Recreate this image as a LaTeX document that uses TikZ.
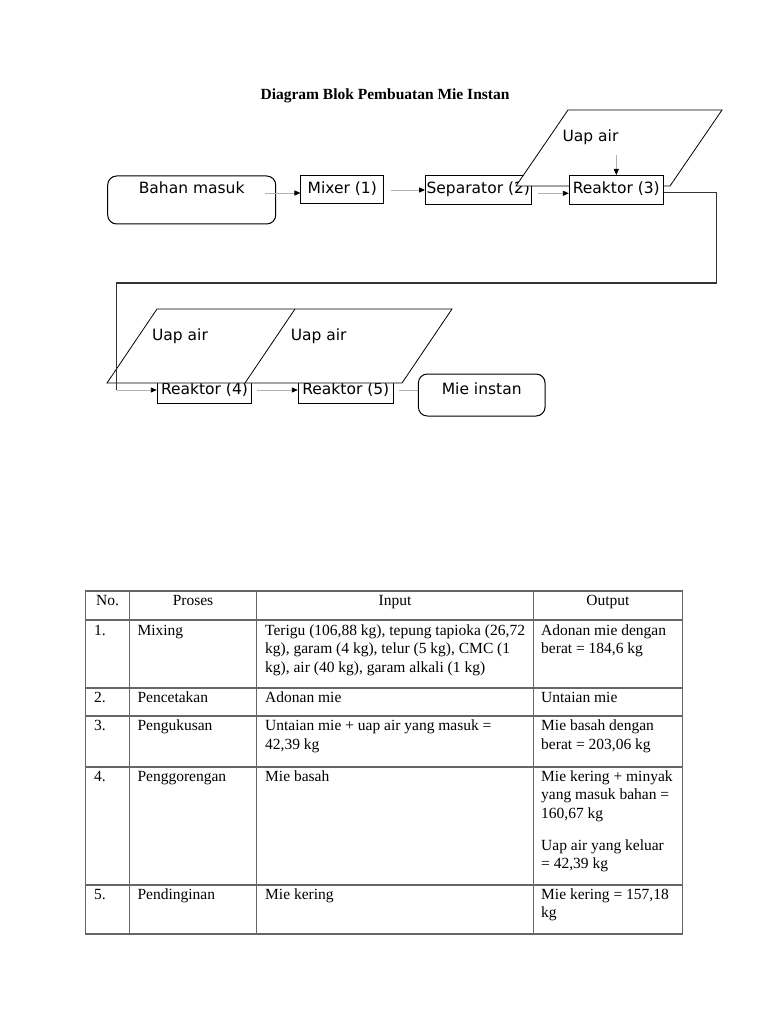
\documentclass[tikz,border=0pt]{standalone}
\usepackage{fontspec}
\setmainfont{Liberation Serif}
\newfontfamily\sansku{DejaVu Sans}
\usetikzlibrary{arrows.meta}

\newcommand{\hurufdiagram}{\sansku\fontsize{15.5pt}{18.5pt}\selectfont}
\newcommand{\hurufdata}{\fontsize{15.5pt}{18.5pt}\selectfont}

\tikzset{
  blok/.style={draw, fill=white, line width=1pt, inner sep=1pt, font=\hurufdiagram,
    text height=11pt, text depth=3pt, minimum height=28pt},
  ujung/.style={draw, fill=white, line width=1pt, rounded corners=9pt, inner sep=0pt, font=\hurufdiagram},
  teksuap/.style={inner sep=0pt, font=\hurufdiagram},
  uap/.style={draw, fill=white, line width=0.8pt, line join=miter},
  alir/.style={black!30, line width=0.9pt, -{Triangle[color=black, length=6pt, width=5pt]}},
  garis/.style={black!30, line width=0.9pt},
  jalur/.style={black!80, line width=1.2pt},
  tabel/.style={black!60, line width=1.5pt},
  kepala/.style={anchor=base, inner sep=0pt, font=\hurufdata},
  sel/.style={anchor=north west, inner sep=0pt, align=left, font=\hurufdata}
}

\begin{document}
\begin{tikzpicture}[x=1pt, y=-1pt, line cap=butt, >=Triangle]
\fill[white] (0,0) rectangle (768,1024);
\useasboundingbox (0,0) rectangle (768,1024);

\node[font=\bfseries\hurufdata, anchor=base, inner sep=0pt] (judul) at (385,100) {Diagram Blok Pembuatan Mie Instan};

% baris atas
\node[ujung, minimum width=168pt, text height=18pt, text depth=30pt] (bahan) at (191.7,200) {Bahan masuk};
\node[blok, minimum width=82.7pt] (mixer) at (342.3,190) {Mixer (1)};
\node[blok, minimum width=104.7pt, minimum height=28.6pt] (sep) at (478.3,190) {Separator (2)};
\draw[uap] (516,186) -- (568,110) -- (722,110) -- (670,186) -- cycle;
\node[teksuap] (uapa) at (590.5,137) {Uap air};
\node[blok, minimum width=94pt, minimum height=29pt] (reak3) at (616.3,190) {Reaktor (3)};
\coordinate (uapmasuk) at (616.3,155);

\draw[alir] ([xshift=-11pt,yshift=7pt]bahan.east) -- ([yshift=-3pt]mixer.west);
\draw[alir] ([xshift=6.5pt]mixer.east) -- (sep.west);
\draw[alir] ([xshift=6pt,yshift=-3.3pt]sep.east) -- ([yshift=-3.3pt]reak3.west);
\draw[alir] (uapmasuk) -- (reak3.north);

% baris bawah
\node[blok, minimum width=94.4pt, minimum height=26.6pt] (reak4) at (204.5,390) {Reaktor (4)};
\node[blok, minimum width=95pt, minimum height=26.6pt] (reak5) at (345.8,390) {Reaktor (5)};
\draw[uap] (107,383) -- (157,309) -- (452,309) -- (402,383) -- cycle;
\draw[uap] (295,309) -- (245,383);
\node[teksuap] (uapb) at (180,336) {Uap air};
\node[teksuap] (uapc) at (318.7,336) {Uap air};
\node[ujung, minimum width=126.7pt, text height=20.3pt, text depth=21.7pt] (mie) at (481.7,395) {Mie instan};

\coordinate (kanan) at (716.7,283);
\coordinate (balik) at (116.7,390);
\draw[jalur] ([yshift=-2.3pt]reak3.east) -| (kanan) -| (balik);
\draw[alir] (balik) -- (reak4.west);
\draw[alir] ([xshift=5pt]reak4.east) -- (reak5.west);
\draw[garis] ([xshift=5pt]reak5.east) -- (mie.west |- reak5.east);

% tabel
\draw[tabel] (85.7,591) rectangle (682.7,934);
\draw[tabel] (129.3,591) -- (129.3,934);
\draw[tabel] (256.7,591) -- (256.7,934);
\draw[tabel] (533.3,591) -- (533.3,934);
\draw[tabel] (85.7,620) -- (682.7,620);
\draw[tabel] (85.7,688) -- (682.7,688);
\draw[tabel] (85.7,716) -- (682.7,716);
\draw[tabel] (85.7,767) -- (682.7,767);
\draw[tabel] (85.7,885) -- (682.7,885);

\node[kepala] (hno) at (107.5,605.5) {No.};
\node[kepala] (hproses) at (193,605.5) {Proses};
\node[kepala] (hinput) at (395,605.5) {Input};
\node[kepala] (houtput) at (608,605.5) {Output};

\node[sel] (no1) at (94,622) {\strut 1.};
\node[sel] (pro1) at (137.3,622) {\strut Mixing};
\node[sel] (in1) at (265,622) {\strut Terigu (106,88 kg), tepung tapioka (26,72\\kg), garam (4 kg), telur (5 kg), CMC (1\\kg), air (40 kg), garam alkali (1 kg)};
\node[sel] (out1) at (541,622) {\strut Adonan mie dengan\\berat = 184,6 kg};

\node[sel] (no2) at (94,689.5) {\strut 2.};
\node[sel] (pro2) at (137.3,689.5) {\strut Pencetakan};
\node[sel] (in2) at (265,689.5) {\strut Adonan mie};
\node[sel] (out2) at (541,689.5) {\strut Untaian mie};

\node[sel] (no3) at (94,717.5) {\strut 3.};
\node[sel] (pro3) at (137.3,717.5) {\strut Pengukusan};
\node[sel] (in3) at (265,717.5) {\strut Untaian mie + uap air yang masuk =\\42,39 kg};
\node[sel] (out3) at (541,717.5) {\strut Mie basah dengan\\berat = 203,06 kg};

\node[sel] (no4) at (94,768) {\strut 4.};
\node[sel] (pro4) at (137.3,768) {\strut Penggorengan};
\node[sel] (in4) at (265,768) {\strut Mie basah};
\node[sel] (out4) at (541,768) {\strut Mie kering + minyak\\yang masuk bahan =\\160,67 kg};
\node[sel] (out4b) at (541,837) {\strut Uap air yang keluar\\= 42,39 kg};

\node[sel] (no5) at (94,886) {\strut 5.};
\node[sel] (pro5) at (137.3,886) {\strut Pendinginan};
\node[sel] (in5) at (265,886) {\strut Mie kering};
\node[sel] (out5) at (541,886) {\strut Mie kering = 157,18\\kg};

\end{tikzpicture}
\end{document}
